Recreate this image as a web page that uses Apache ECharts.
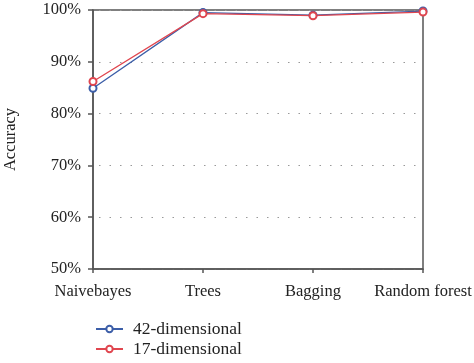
<!DOCTYPE html>
<html><head><meta charset="utf-8">
<script src="https://cdn.jsdelivr.net/npm/echarts@6/dist/echarts.min.js"></script>
<style>html,body{margin:0;padding:0;background:#fff}#c{width:474px;height:363px}</style>
</head><body><div id="c"></div>
<script>
var categories = ['Naivebayes', 'Trees', 'Bagging', 'Random forest'];
var dim42 = [84.9, 99.5, 99.0, 99.8];
var dim17 = [86.2, 99.3, 98.9, 99.6];
var seriesNames = ['42-dimensional', '17-dimensional'];
var yTicks = [50, 60, 70, 80, 90, 100];

var font = '"Liberation Serif", "DejaVu Serif", serif';
var chart = echarts.init(document.getElementById('c'), null, {renderer: 'canvas'});
chart.setOption({
  animation: false,
  textStyle: {fontFamily: font},
  grid: {left: 93, right: 51, top: 10, bottom: 94, outerBoundsMode: 'none', containLabel: false,
         show: true, borderColor: '#555', borderWidth: 1.5, backgroundColor: 'transparent'},
  legend: {
    orient: 'vertical', left: 95, top: 320, itemGap: 2, itemWidth: 27, itemHeight: 8, padding: 0,
    textStyle: {fontFamily: font, fontSize: 17.5, color: '#222', padding: [0, 0, 0, 5]},
    data: seriesNames
  },
  xAxis: {
    type: 'category', data: categories, boundaryGap: false,
    axisLine: {lineStyle: {color: '#555', width: 1.5}},
    axisTick: {show: true, alignWithLabel: true, length: 4, lineStyle: {color: '#555', width: 1.5}},
    axisLabel: {fontFamily: font, fontSize: 16.5, color: '#222', margin: 14, interval: 0, hideOverlap: false},
    splitLine: {show: false}
  },
  yAxis: {
    type: 'value', min: yTicks[0], max: yTicks[yTicks.length - 1], interval: 10,
    name: 'Accuracy', nameLocation: 'middle', nameGap: 74,
    nameTextStyle: {fontFamily: font, fontSize: 16.5, color: '#222'},
    axisLine: {show: true, lineStyle: {color: '#555', width: 1.5}},
    axisTick: {show: true, length: 5, lineStyle: {color: '#555', width: 1.5}},
    axisLabel: {fontFamily: font, fontSize: 16.5, color: '#222', margin: 12, formatter: '{value}%'},
    splitLine: {show: true, lineStyle: {color: '#999', type: [1.5, 9], dashOffset: -6, width: 1.2}}
  },
  series: [
    {name: seriesNames[0], type: 'line', data: dim42, symbol: 'emptyCircle', symbolSize: 7,
     itemStyle: {color: '#3c5ea8', borderWidth: 1.3}, lineStyle: {color: '#3c5ea8', width: 1.3}},
    {name: seriesNames[1], type: 'line', data: dim17, symbol: 'emptyCircle', symbolSize: 7,
     itemStyle: {color: '#e0464f', borderWidth: 1.3}, lineStyle: {color: '#e0464f', width: 1.3}}
  ]
});
</script></body></html>
